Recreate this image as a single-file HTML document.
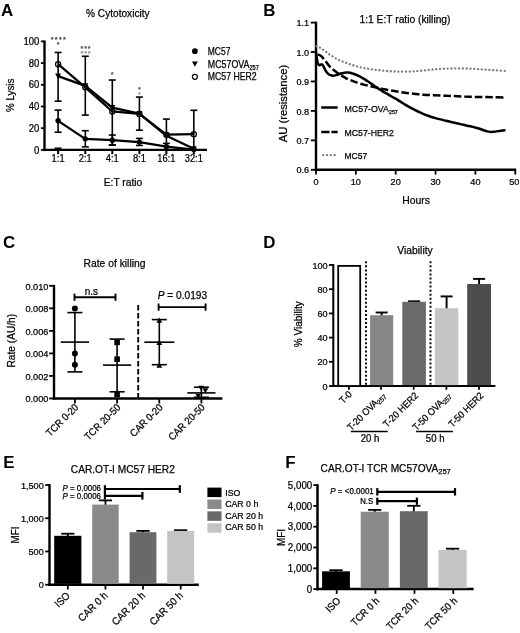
<!DOCTYPE html>
<html lang="en"><head><meta charset="utf-8"><title>Figure</title>
<style>
html,body{margin:0;padding:0;background:#fff;}
body{width:520px;height:633px;overflow:hidden;font-family:'Liberation Sans', Arial, Helvetica, sans-serif;}
svg{display:block;}
svg text{font-family:'Liberation Sans', Arial, Helvetica, sans-serif;}
</style></head><body>
<svg width="520" height="633" viewBox="0 0 520 633">
<rect width="520" height="633" fill="#fff"/>
<text font-size="16.9" font-weight="bold" transform="translate(0.9 15.6)">A</text>
<text font-size="11.39" stroke="#000" stroke-width="0.25" textLength="63.6" lengthAdjust="spacingAndGlyphs" transform="translate(86.0 16.7)">% Cytotoxicity</text>
<line x1="44.50" y1="40.50" x2="44.50" y2="151.10" stroke="#000" stroke-width="2.4"/>
<line x1="43.30" y1="149.90" x2="207.00" y2="149.90" stroke="#000" stroke-width="2.4"/>
<line x1="40.90" y1="149.90" x2="44.50" y2="149.90" stroke="#000" stroke-width="1.8"/>
<text font-size="10.21" text-anchor="end" stroke="#000" stroke-width="0.25" transform="translate(39.3 153.5) scale(0.93 1)">0</text>
<line x1="40.90" y1="128.20" x2="44.50" y2="128.20" stroke="#000" stroke-width="1.8"/>
<text font-size="10.21" text-anchor="end" stroke="#000" stroke-width="0.25" transform="translate(39.3 131.8) scale(0.93 1)">20</text>
<line x1="40.90" y1="106.50" x2="44.50" y2="106.50" stroke="#000" stroke-width="1.8"/>
<text font-size="10.21" text-anchor="end" stroke="#000" stroke-width="0.25" transform="translate(39.3 110.1) scale(0.93 1)">40</text>
<line x1="40.90" y1="84.80" x2="44.50" y2="84.80" stroke="#000" stroke-width="1.8"/>
<text font-size="10.21" text-anchor="end" stroke="#000" stroke-width="0.25" transform="translate(39.3 88.4) scale(0.93 1)">60</text>
<line x1="40.90" y1="63.10" x2="44.50" y2="63.10" stroke="#000" stroke-width="1.8"/>
<text font-size="10.21" text-anchor="end" stroke="#000" stroke-width="0.25" transform="translate(39.3 66.7) scale(0.93 1)">80</text>
<line x1="40.90" y1="41.40" x2="44.50" y2="41.40" stroke="#000" stroke-width="1.8"/>
<text font-size="10.21" text-anchor="end" stroke="#000" stroke-width="0.25" transform="translate(39.3 45.0) scale(0.93 1)">100</text>
<line x1="58.10" y1="149.90" x2="58.10" y2="154.20" stroke="#000" stroke-width="2.0"/>
<text font-size="10.05" text-anchor="middle" stroke="#000" stroke-width="0.25" transform="translate(58.1 162.3) scale(0.93 1)">1:1</text>
<line x1="85.30" y1="149.90" x2="85.30" y2="154.20" stroke="#000" stroke-width="2.0"/>
<text font-size="10.05" text-anchor="middle" stroke="#000" stroke-width="0.25" transform="translate(85.3 162.3) scale(0.93 1)">2:1</text>
<line x1="112.30" y1="149.90" x2="112.30" y2="154.20" stroke="#000" stroke-width="2.0"/>
<text font-size="10.05" text-anchor="middle" stroke="#000" stroke-width="0.25" transform="translate(112.3 162.3) scale(0.93 1)">4:1</text>
<line x1="139.40" y1="149.90" x2="139.40" y2="154.20" stroke="#000" stroke-width="2.0"/>
<text font-size="10.05" text-anchor="middle" stroke="#000" stroke-width="0.25" transform="translate(139.4 162.3) scale(0.93 1)">8:1</text>
<line x1="166.40" y1="149.90" x2="166.40" y2="154.20" stroke="#000" stroke-width="2.0"/>
<text font-size="10.05" text-anchor="middle" stroke="#000" stroke-width="0.25" transform="translate(166.4 162.3) scale(0.93 1)">16:1</text>
<line x1="193.80" y1="149.90" x2="193.80" y2="154.20" stroke="#000" stroke-width="2.0"/>
<text font-size="10.05" text-anchor="middle" stroke="#000" stroke-width="0.25" transform="translate(193.8 162.3) scale(0.93 1)">32:1</text>
<text font-size="10.54" text-anchor="middle" stroke="#000" stroke-width="0.25" transform="translate(14.2 95.3) rotate(-90) scale(0.93 1)">% Lysis</text>
<text font-size="11.07" text-anchor="middle" stroke="#000" stroke-width="0.25" transform="translate(123 185.7) scale(0.93 1)">E:T ratio</text>
<line x1="58.10" y1="52.47" x2="58.10" y2="101.18" stroke="#000" stroke-width="1.6"/>
<line x1="54.60" y1="52.47" x2="61.60" y2="52.47" stroke="#000" stroke-width="1.6"/>
<line x1="54.60" y1="101.18" x2="61.60" y2="101.18" stroke="#000" stroke-width="1.6"/>
<line x1="85.30" y1="56.26" x2="85.30" y2="115.07" stroke="#000" stroke-width="1.6"/>
<line x1="81.80" y1="56.26" x2="88.80" y2="56.26" stroke="#000" stroke-width="1.6"/>
<line x1="81.80" y1="115.07" x2="88.80" y2="115.07" stroke="#000" stroke-width="1.6"/>
<line x1="112.30" y1="80.03" x2="112.30" y2="145.02" stroke="#000" stroke-width="1.6"/>
<line x1="108.80" y1="80.03" x2="115.80" y2="80.03" stroke="#000" stroke-width="1.6"/>
<line x1="108.80" y1="145.02" x2="115.80" y2="145.02" stroke="#000" stroke-width="1.6"/>
<line x1="139.40" y1="97.06" x2="139.40" y2="130.15" stroke="#000" stroke-width="1.6"/>
<line x1="135.90" y1="97.06" x2="142.90" y2="97.06" stroke="#000" stroke-width="1.6"/>
<line x1="135.90" y1="130.15" x2="142.90" y2="130.15" stroke="#000" stroke-width="1.6"/>
<line x1="166.40" y1="119.09" x2="166.40" y2="149.90" stroke="#000" stroke-width="1.6"/>
<line x1="162.90" y1="119.09" x2="169.90" y2="119.09" stroke="#000" stroke-width="1.6"/>
<line x1="162.90" y1="149.90" x2="169.90" y2="149.90" stroke="#000" stroke-width="1.6"/>
<line x1="193.80" y1="110.30" x2="193.80" y2="149.90" stroke="#000" stroke-width="1.6"/>
<line x1="190.30" y1="110.30" x2="197.30" y2="110.30" stroke="#000" stroke-width="1.6"/>
<line x1="190.30" y1="149.90" x2="197.30" y2="149.90" stroke="#000" stroke-width="1.6"/>
<line x1="58.10" y1="110.08" x2="58.10" y2="132.21" stroke="#000" stroke-width="1.6"/>
<line x1="54.60" y1="110.08" x2="61.60" y2="110.08" stroke="#000" stroke-width="1.6"/>
<line x1="54.60" y1="132.21" x2="61.60" y2="132.21" stroke="#000" stroke-width="1.6"/>
<line x1="85.30" y1="130.70" x2="85.30" y2="146.86" stroke="#000" stroke-width="1.6"/>
<line x1="81.80" y1="130.70" x2="88.80" y2="130.70" stroke="#000" stroke-width="1.6"/>
<line x1="81.80" y1="146.86" x2="88.80" y2="146.86" stroke="#000" stroke-width="1.6"/>
<line x1="112.30" y1="135.04" x2="112.30" y2="145.02" stroke="#000" stroke-width="1.6"/>
<line x1="108.80" y1="135.04" x2="115.80" y2="135.04" stroke="#000" stroke-width="1.6"/>
<line x1="108.80" y1="145.02" x2="115.80" y2="145.02" stroke="#000" stroke-width="1.6"/>
<line x1="139.40" y1="138.40" x2="139.40" y2="145.45" stroke="#000" stroke-width="1.6"/>
<line x1="135.90" y1="138.40" x2="142.90" y2="138.40" stroke="#000" stroke-width="1.6"/>
<line x1="135.90" y1="145.45" x2="142.90" y2="145.45" stroke="#000" stroke-width="1.6"/>
<line x1="166.40" y1="143.39" x2="166.40" y2="149.90" stroke="#000" stroke-width="1.6"/>
<line x1="162.90" y1="143.39" x2="169.90" y2="143.39" stroke="#000" stroke-width="1.6"/>
<line x1="162.90" y1="149.90" x2="169.90" y2="149.90" stroke="#000" stroke-width="1.6"/>
<line x1="54.60" y1="148.30" x2="61.60" y2="148.30" stroke="#000" stroke-width="1.6"/>
<polyline points="58.10,120.82 85.30,138.83 112.30,140.13 139.40,142.09 166.40,146.65 193.80,149.57" fill="none" stroke="#000" stroke-width="2.25" stroke-linejoin="round"/>
<polyline points="58.10,76.12 85.30,85.89 112.30,107.59 139.40,113.55 166.40,135.80 193.80,148.81" fill="none" stroke="#000" stroke-width="2.25" stroke-linejoin="round"/>
<polyline points="58.10,64.19 85.30,87.30 112.30,111.49 139.40,113.88 166.40,134.71 193.80,134.17" fill="none" stroke="#000" stroke-width="2.25" stroke-linejoin="round"/>
<circle cx="58.10" cy="120.82" r="2.7" fill="#000"/>
<circle cx="85.30" cy="138.83" r="2.7" fill="#000"/>
<circle cx="112.30" cy="140.13" r="2.7" fill="#000"/>
<circle cx="139.40" cy="142.09" r="2.7" fill="#000"/>
<circle cx="166.40" cy="146.65" r="2.7" fill="#000"/>
<circle cx="193.80" cy="149.57" r="2.7" fill="#000"/>
<polygon points="55.10,73.57 61.10,73.57 58.10,78.97" fill="#000"/>
<polygon points="82.30,83.34 88.30,83.34 85.30,88.73" fill="#000"/>
<polygon points="109.30,105.04 115.30,105.04 112.30,110.44" fill="#000"/>
<polygon points="136.40,111.00 142.40,111.00 139.40,116.40" fill="#000"/>
<polygon points="163.40,133.25 169.40,133.25 166.40,138.65" fill="#000"/>
<polygon points="190.80,146.26 196.80,146.26 193.80,151.66" fill="#000"/>
<circle cx="58.10" cy="64.19" r="2.6" fill="none" stroke="#000" stroke-width="1.2"/>
<circle cx="85.30" cy="87.30" r="2.6" fill="none" stroke="#000" stroke-width="1.2"/>
<circle cx="112.30" cy="111.49" r="2.6" fill="none" stroke="#000" stroke-width="1.2"/>
<circle cx="139.40" cy="113.88" r="2.6" fill="none" stroke="#000" stroke-width="1.2"/>
<circle cx="166.40" cy="134.71" r="2.6" fill="none" stroke="#000" stroke-width="1.2"/>
<circle cx="193.80" cy="134.17" r="2.6" fill="none" stroke="#000" stroke-width="1.2"/>
<text font-size="7.74" text-anchor="middle" fill="#3c3c3c" stroke="#3c3c3c" stroke-width="0.25" transform="translate(58.9 41.5) scale(0.93 1)" letter-spacing="1.4">****</text>
<text font-size="7.74" text-anchor="middle" fill="#4a4a4a" stroke="#4a4a4a" stroke-width="0.25" transform="translate(58.1 46.9) scale(0.93 1)">*</text>
<text font-size="7.74" text-anchor="middle" fill="#454545" stroke="#454545" stroke-width="0.25" transform="translate(85.9 51.2) scale(0.93 1)" letter-spacing="0.8">***</text>
<text font-size="7.74" text-anchor="middle" fill="#8c8c8c" stroke="#8c8c8c" stroke-width="0.25" transform="translate(85.9 56.0) scale(0.93 1)" letter-spacing="0.8">***</text>
<text font-size="7.96" text-anchor="middle" fill="#555" stroke="#555" stroke-width="0.25" transform="translate(112.1 77.2) scale(0.93 1)">*</text>
<text font-size="7.96" text-anchor="middle" fill="#555" stroke="#555" stroke-width="0.25" transform="translate(139.4 92.0) scale(0.93 1)">*</text>
<text font-size="7.96" text-anchor="middle" fill="#999" stroke="#999" stroke-width="0.25" transform="translate(139.4 96.7) scale(0.93 1)">*</text>
<circle cx="194.90" cy="51.20" r="2.85" fill="#000"/>
<polygon points="192.00,61.53 197.80,61.53 194.90,66.75" fill="#000"/>
<circle cx="194.90" cy="76.80" r="2.5" fill="none" stroke="#000" stroke-width="1.2"/>
<text font-size="10.11" stroke="#000" stroke-width="0.25" textLength="22.6" lengthAdjust="spacingAndGlyphs" transform="translate(207.8 54.7)">MC57</text>
<text font-size="10.11" stroke="#000" stroke-width="0.25" textLength="51" lengthAdjust="spacingAndGlyphs" transform="translate(207.8 67.8)">MC57OVA<tspan font-size="6.4" dy="2" dx="0">257</tspan></text>
<text font-size="10.11" stroke="#000" stroke-width="0.25" textLength="48.9" lengthAdjust="spacingAndGlyphs" transform="translate(207.8 80.1)">MC57 HER2</text>
<text font-size="16.9" font-weight="bold" transform="translate(263.3 15.6)">B</text>
<text font-size="10.96" text-anchor="middle" stroke="#000" stroke-width="0.25" textLength="91" lengthAdjust="spacingAndGlyphs" transform="translate(405 22.8)">1:1 E:T ratio (killing)</text>
<line x1="316.00" y1="21.70" x2="316.00" y2="171.00" stroke="#000" stroke-width="2.4"/>
<line x1="314.80" y1="169.80" x2="516.20" y2="169.80" stroke="#000" stroke-width="2.4"/>
<line x1="310.80" y1="169.80" x2="316.00" y2="169.80" stroke="#000" stroke-width="1.8"/>
<text font-size="9.84" text-anchor="end" stroke="#000" stroke-width="0.25" transform="translate(309.2 173.4) scale(0.93 1)">0.6</text>
<line x1="310.80" y1="140.36" x2="316.00" y2="140.36" stroke="#000" stroke-width="1.8"/>
<text font-size="9.84" text-anchor="end" stroke="#000" stroke-width="0.25" transform="translate(309.2 143.96) scale(0.93 1)">0.7</text>
<line x1="310.80" y1="110.92" x2="316.00" y2="110.92" stroke="#000" stroke-width="1.8"/>
<text font-size="9.84" text-anchor="end" stroke="#000" stroke-width="0.25" transform="translate(309.2 114.52) scale(0.93 1)">0.8</text>
<line x1="310.80" y1="81.48" x2="316.00" y2="81.48" stroke="#000" stroke-width="1.8"/>
<text font-size="9.84" text-anchor="end" stroke="#000" stroke-width="0.25" transform="translate(309.2 85.08) scale(0.93 1)">0.9</text>
<line x1="310.80" y1="52.04" x2="316.00" y2="52.04" stroke="#000" stroke-width="1.8"/>
<text font-size="9.84" text-anchor="end" stroke="#000" stroke-width="0.25" transform="translate(309.2 55.64) scale(0.93 1)">1.0</text>
<line x1="310.80" y1="22.60" x2="316.00" y2="22.60" stroke="#000" stroke-width="1.8"/>
<text font-size="9.84" text-anchor="end" stroke="#000" stroke-width="0.25" transform="translate(309.2 26.2) scale(0.93 1)">1.1</text>
<line x1="316.00" y1="169.80" x2="316.00" y2="174.60" stroke="#000" stroke-width="1.8"/>
<text font-size="9.84" text-anchor="middle" stroke="#000" stroke-width="0.25" transform="translate(316.0 184.7) scale(0.93 1)">0</text>
<line x1="355.85" y1="169.80" x2="355.85" y2="174.60" stroke="#000" stroke-width="1.8"/>
<text font-size="9.84" text-anchor="middle" stroke="#000" stroke-width="0.25" transform="translate(355.85 184.7) scale(0.93 1)">10</text>
<line x1="395.70" y1="169.80" x2="395.70" y2="174.60" stroke="#000" stroke-width="1.8"/>
<text font-size="9.84" text-anchor="middle" stroke="#000" stroke-width="0.25" transform="translate(395.7 184.7) scale(0.93 1)">20</text>
<line x1="435.55" y1="169.80" x2="435.55" y2="174.60" stroke="#000" stroke-width="1.8"/>
<text font-size="9.84" text-anchor="middle" stroke="#000" stroke-width="0.25" transform="translate(435.55 184.7) scale(0.93 1)">30</text>
<line x1="475.40" y1="169.80" x2="475.40" y2="174.60" stroke="#000" stroke-width="1.8"/>
<text font-size="9.84" text-anchor="middle" stroke="#000" stroke-width="0.25" transform="translate(475.4 184.7) scale(0.93 1)">40</text>
<line x1="515.25" y1="169.80" x2="515.25" y2="174.60" stroke="#000" stroke-width="1.8"/>
<text font-size="9.84" text-anchor="middle" stroke="#000" stroke-width="0.25" transform="translate(514.35 184.7) scale(0.93 1)">50</text>
<text font-size="11.82" text-anchor="middle" stroke="#000" stroke-width="0.25" textLength="77.5" lengthAdjust="spacingAndGlyphs" transform="translate(287.2 103.5) rotate(-90)">AU (resistance)</text>
<text font-size="11.18" text-anchor="middle" stroke="#000" stroke-width="0.25" transform="translate(416 203.8) scale(0.93 1)">Hours</text>
<path d="M316.5 46.2C316.8 46.3 317.7 46.4 318.5 46.8C319.3 47.2 320.4 47.8 321.5 48.5C322.6 49.2 324.0 50.3 325.3 51.3C326.6 52.2 327.8 53.2 329.2 54.2C330.6 55.2 332.4 56.3 334.0 57.3C335.6 58.3 337.2 59.2 338.8 60.0C340.4 60.8 342.0 61.4 343.6 62.0C345.2 62.6 346.9 63.2 348.5 63.8C350.1 64.3 351.7 64.8 353.3 65.3C354.9 65.8 356.5 66.3 358.1 66.7C359.7 67.1 361.4 67.5 363.0 67.8C364.6 68.1 366.1 68.4 367.7 68.7C369.3 69.0 370.9 69.2 372.5 69.4C374.1 69.6 375.7 69.8 377.3 70.0C378.9 70.2 380.4 70.3 382.0 70.5C383.6 70.7 385.3 70.9 386.9 71.0C388.5 71.1 390.1 71.2 391.7 71.3C393.3 71.4 395.1 71.5 396.5 71.6C397.9 71.7 398.5 71.7 400.0 71.7C401.5 71.7 403.6 71.7 405.5 71.7C407.4 71.7 409.6 71.6 411.5 71.5C413.4 71.4 415.1 71.3 417.0 71.1C418.9 70.9 421.1 70.7 423.1 70.5C425.1 70.3 426.9 70.1 428.8 69.9C430.7 69.7 432.7 69.5 434.6 69.3C436.5 69.1 438.5 69.0 440.4 68.9C442.3 68.8 444.3 68.7 446.2 68.6C448.1 68.5 450.1 68.5 452.0 68.5C453.9 68.5 455.8 68.4 457.7 68.4C459.6 68.4 461.6 68.5 463.5 68.5C465.4 68.5 467.3 68.5 469.2 68.6C471.1 68.7 473.1 68.8 475.0 68.9C476.9 69.0 478.9 69.2 480.8 69.3C482.7 69.4 484.6 69.6 486.5 69.7C488.4 69.8 490.3 69.9 492.3 70.0C494.3 70.1 496.4 70.3 498.5 70.5C500.6 70.7 503.9 70.8 505.0 70.9" fill="none" stroke="#7c7c7c" stroke-width="2.3" stroke-linejoin="round" stroke-dasharray="0.1 3.7" stroke-linecap="round"/>
<path d="M318.0 54.6C318.2 54.7 318.9 54.7 319.5 55.0C320.1 55.3 320.9 55.8 321.5 56.4C322.1 57.0 322.8 57.8 323.4 58.6C324.0 59.4 324.4 59.8 325.4 61.0C326.4 62.2 327.9 64.4 329.2 65.8C330.5 67.2 331.7 68.3 333.0 69.4C334.3 70.5 335.6 71.6 336.9 72.5C338.2 73.4 339.4 74.2 340.7 75.0C342.0 75.8 343.2 76.5 344.6 77.3C346.0 78.1 347.7 79.0 349.3 79.7C350.9 80.4 352.6 81.1 354.2 81.7C355.8 82.3 357.4 82.8 359.0 83.3C360.6 83.8 362.1 84.1 363.8 84.6C365.6 85.0 367.6 85.5 369.5 86.0C371.4 86.5 373.5 86.9 375.4 87.3C377.3 87.7 379.1 88.2 381.0 88.6C382.9 89.0 384.9 89.4 386.9 89.8C388.8 90.2 390.8 90.5 392.7 90.8C394.6 91.1 396.6 91.4 398.5 91.7C400.4 92.0 401.8 92.3 404.0 92.6C406.2 92.9 408.3 93.2 411.5 93.5C414.7 93.8 419.2 94.4 423.1 94.7C427.0 95.0 430.8 95.1 434.6 95.3C438.5 95.5 442.4 95.6 446.2 95.8C450.0 96.0 453.9 96.1 457.7 96.3C461.5 96.5 465.3 96.7 469.2 96.8C473.1 96.9 476.9 96.9 480.8 97.0C484.7 97.1 488.2 97.1 492.3 97.2C496.4 97.3 503.3 97.5 505.5 97.5" fill="none" stroke="#000" stroke-width="2.5" stroke-linejoin="round" stroke-dasharray="7.6 2.9"/>
<path d="M316.2 52.3C316.3 53.5 316.7 57.6 317.0 59.5C317.3 61.4 317.5 62.6 317.9 63.6C318.3 64.5 318.7 65.0 319.2 65.2C319.7 65.4 320.3 64.7 320.8 64.6C321.3 64.5 321.8 64.2 322.3 64.6C322.8 65.0 323.2 66.0 323.8 67.0C324.4 68.0 324.9 69.5 325.6 70.6C326.3 71.7 327.2 72.8 328.0 73.6C328.8 74.4 329.6 74.8 330.5 75.2C331.4 75.6 332.1 75.8 333.1 75.8C334.1 75.8 335.2 75.4 336.5 75.0C337.8 74.6 339.5 73.9 340.8 73.5C342.1 73.1 343.3 72.9 344.5 72.7C345.7 72.5 346.7 72.5 348.0 72.6C349.3 72.7 350.8 73.0 352.5 73.5C354.2 74.0 356.4 74.8 358.1 75.6C359.9 76.4 361.4 77.4 363.0 78.3C364.6 79.2 366.1 80.2 367.7 81.2C369.3 82.2 370.9 83.5 372.5 84.6C374.1 85.7 375.7 86.9 377.3 87.9C378.9 89.0 380.4 89.9 382.0 90.9C383.6 91.9 385.3 92.8 386.9 93.7C388.5 94.6 389.9 95.6 391.5 96.5C393.1 97.4 395.1 98.4 396.5 99.2C397.9 100.0 398.5 100.5 400.0 101.4C401.5 102.3 403.6 103.7 405.5 104.8C407.4 105.9 409.6 107.2 411.5 108.2C413.4 109.2 415.1 110.1 417.0 111.0C418.9 111.9 421.1 113.0 423.1 113.8C425.1 114.6 426.9 115.3 428.8 116.0C430.7 116.7 432.7 117.3 434.6 117.9C436.5 118.5 438.5 118.9 440.4 119.4C442.3 119.9 444.3 120.3 446.2 120.8C448.1 121.3 450.1 121.8 452.0 122.2C453.9 122.7 455.8 123.1 457.7 123.5C459.6 123.9 461.6 124.4 463.5 124.8C465.4 125.2 467.6 125.8 469.2 126.1C470.8 126.4 471.8 126.6 473.0 126.9C474.2 127.2 475.1 127.4 476.2 127.7C477.3 128.0 478.5 128.4 479.7 128.8C480.9 129.2 482.1 129.6 483.1 130.0C484.2 130.4 485.1 130.7 486.0 131.0C486.9 131.3 488.0 131.4 488.8 131.6C489.6 131.8 490.2 131.9 491.0 131.9C491.8 131.9 492.6 131.9 493.5 131.8C494.4 131.7 495.6 131.6 496.5 131.4C497.4 131.2 498.2 131.1 499.2 130.9C500.2 130.7 501.4 130.6 502.5 130.4C503.6 130.2 505.0 130.1 505.5 130.0" fill="none" stroke="#000" stroke-width="2.5" stroke-linejoin="round"/>
<line x1="321.20" y1="107.50" x2="337.70" y2="107.50" stroke="#000" stroke-width="2.5"/>
<line x1="321.20" y1="132.10" x2="337.70" y2="132.10" stroke="#000" stroke-width="2.5" stroke-dasharray="8.3 1.9"/>
<line x1="323.20" y1="155.20" x2="335.50" y2="155.20" stroke="#7c7c7c" stroke-width="2.3" stroke-dasharray="0.1 3.7" stroke-linecap="round"/>
<text font-size="9.89" stroke="#000" stroke-width="0.25" textLength="53.3" lengthAdjust="spacingAndGlyphs" transform="translate(344.5 111.6)">MC57-OVA<tspan font-size="5.9" dy="2" dx="0">257</tspan></text>
<text font-size="9.89" stroke="#000" stroke-width="0.25" textLength="49.4" lengthAdjust="spacingAndGlyphs" transform="translate(344.5 135.8)">MC57-HER2</text>
<text font-size="9.89" stroke="#000" stroke-width="0.25" textLength="22.8" lengthAdjust="spacingAndGlyphs" transform="translate(344.5 159.2)">MC57</text>
<text font-size="16.9" font-weight="bold" transform="translate(2.9 247.6)">C</text>
<text font-size="11.29" text-anchor="middle" stroke="#000" stroke-width="0.25" textLength="62" lengthAdjust="spacingAndGlyphs" transform="translate(114.5 266.6)">Rate of killing</text>
<line x1="54.00" y1="284.90" x2="54.00" y2="399.65" stroke="#000" stroke-width="2.4"/>
<line x1="52.80" y1="398.45" x2="222.40" y2="398.45" stroke="#000" stroke-width="2.4"/>
<line x1="49.10" y1="398.45" x2="54.00" y2="398.45" stroke="#000" stroke-width="1.8"/>
<text font-size="9.84" text-anchor="end" stroke="#000" stroke-width="0.25" textLength="23.0" lengthAdjust="spacingAndGlyphs" transform="translate(48.4 402.15)">0.000</text>
<line x1="49.10" y1="375.92" x2="54.00" y2="375.92" stroke="#000" stroke-width="1.8"/>
<text font-size="9.84" text-anchor="end" stroke="#000" stroke-width="0.25" textLength="23.0" lengthAdjust="spacingAndGlyphs" transform="translate(48.4 379.62)">0.002</text>
<line x1="49.10" y1="353.39" x2="54.00" y2="353.39" stroke="#000" stroke-width="1.8"/>
<text font-size="9.84" text-anchor="end" stroke="#000" stroke-width="0.25" textLength="23.0" lengthAdjust="spacingAndGlyphs" transform="translate(48.4 357.09)">0.004</text>
<line x1="49.10" y1="330.86" x2="54.00" y2="330.86" stroke="#000" stroke-width="1.8"/>
<text font-size="9.84" text-anchor="end" stroke="#000" stroke-width="0.25" textLength="23.0" lengthAdjust="spacingAndGlyphs" transform="translate(48.4 334.56)">0.006</text>
<line x1="49.10" y1="308.33" x2="54.00" y2="308.33" stroke="#000" stroke-width="1.8"/>
<text font-size="9.84" text-anchor="end" stroke="#000" stroke-width="0.25" textLength="23.0" lengthAdjust="spacingAndGlyphs" transform="translate(48.4 312.03)">0.008</text>
<line x1="49.10" y1="285.80" x2="54.00" y2="285.80" stroke="#000" stroke-width="1.8"/>
<text font-size="9.84" text-anchor="end" stroke="#000" stroke-width="0.25" textLength="23.0" lengthAdjust="spacingAndGlyphs" transform="translate(48.4 289.5)">0.010</text>
<line x1="74.90" y1="398.45" x2="74.90" y2="403.45" stroke="#000" stroke-width="1.8"/>
<text font-size="10.21" text-anchor="end" stroke="#000" stroke-width="0.25" transform="translate(79.10000000000001 407.95) rotate(-45) scale(0.93 1)">TCR 0-20</text>
<line x1="117.10" y1="398.45" x2="117.10" y2="403.45" stroke="#000" stroke-width="1.8"/>
<text font-size="10.21" text-anchor="end" stroke="#000" stroke-width="0.25" transform="translate(121.3 407.95) rotate(-45) scale(0.93 1)">TCR 20-50</text>
<line x1="159.30" y1="398.45" x2="159.30" y2="403.45" stroke="#000" stroke-width="1.8"/>
<text font-size="10.21" text-anchor="end" stroke="#000" stroke-width="0.25" transform="translate(163.5 407.95) rotate(-45) scale(0.93 1)">CAR 0-20</text>
<line x1="201.40" y1="398.45" x2="201.40" y2="403.45" stroke="#000" stroke-width="1.8"/>
<text font-size="10.21" text-anchor="end" stroke="#000" stroke-width="0.25" transform="translate(205.6 407.95) rotate(-45) scale(0.93 1)">CAR 20-50</text>
<text font-size="10.96" text-anchor="middle" stroke="#000" stroke-width="0.25" textLength="53.6" lengthAdjust="spacingAndGlyphs" transform="translate(15.0 340.7) rotate(-90)">Rate (AU/h)</text>
<line x1="138.20" y1="305.00" x2="138.20" y2="398.45" stroke="#000" stroke-width="1.9" stroke-dasharray="5.6 2.4"/>
<line x1="74.90" y1="312.60" x2="74.90" y2="371.90" stroke="#000" stroke-width="1.6"/>
<line x1="67.40" y1="312.60" x2="82.40" y2="312.60" stroke="#000" stroke-width="1.6"/>
<line x1="67.40" y1="371.90" x2="82.40" y2="371.90" stroke="#000" stroke-width="1.6"/>
<line x1="60.80" y1="342.10" x2="89.00" y2="342.10" stroke="#000" stroke-width="1.6"/>
<circle cx="74.90" cy="308.50" r="3.0" fill="#000"/>
<circle cx="74.90" cy="353.60" r="3.0" fill="#000"/>
<circle cx="74.90" cy="364.70" r="3.0" fill="#000"/>
<line x1="117.10" y1="339.10" x2="117.10" y2="391.80" stroke="#000" stroke-width="1.6"/>
<line x1="109.60" y1="339.10" x2="124.60" y2="339.10" stroke="#000" stroke-width="1.6"/>
<line x1="109.60" y1="391.80" x2="124.60" y2="391.80" stroke="#000" stroke-width="1.6"/>
<line x1="103.00" y1="365.10" x2="131.20" y2="365.10" stroke="#000" stroke-width="1.6"/>
<rect x="114.30" y="339.60" width="5.60" height="5.60" fill="#000"/>
<rect x="114.30" y="356.40" width="5.60" height="5.60" fill="#000"/>
<rect x="114.30" y="391.60" width="5.60" height="5.60" fill="#000"/>
<line x1="159.30" y1="319.60" x2="159.30" y2="364.70" stroke="#000" stroke-width="1.6"/>
<line x1="151.80" y1="319.60" x2="166.80" y2="319.60" stroke="#000" stroke-width="1.6"/>
<line x1="151.80" y1="364.70" x2="166.80" y2="364.70" stroke="#000" stroke-width="1.6"/>
<line x1="144.30" y1="342.20" x2="174.30" y2="342.20" stroke="#000" stroke-width="1.6"/>
<polygon points="156.40,322.76 162.20,322.76 159.30,317.55" fill="#000"/>
<polygon points="156.40,345.06 162.20,345.06 159.30,339.85" fill="#000"/>
<polygon points="156.40,367.76 162.20,367.76 159.30,362.55" fill="#000"/>
<line x1="201.40" y1="387.20" x2="201.40" y2="397.30" stroke="#000" stroke-width="1.6"/>
<line x1="193.90" y1="387.20" x2="208.90" y2="387.20" stroke="#000" stroke-width="1.6"/>
<line x1="193.90" y1="397.30" x2="208.90" y2="397.30" stroke="#000" stroke-width="1.6"/>
<line x1="187.30" y1="392.90" x2="215.50" y2="392.90" stroke="#000" stroke-width="1.6"/>
<polygon points="198.20,385.74 204.00,385.74 201.10,390.95" fill="#000"/>
<polygon points="202.50,388.14 208.30,388.14 205.40,393.36" fill="#000"/>
<polygon points="195.30,393.84 201.10,393.84 198.20,399.06" fill="#000"/>
<line x1="74.50" y1="297.20" x2="115.50" y2="297.20" stroke="#000" stroke-width="1.9"/>
<line x1="74.50" y1="293.60" x2="74.50" y2="300.80" stroke="#000" stroke-width="1.9"/>
<line x1="115.50" y1="293.60" x2="115.50" y2="300.80" stroke="#000" stroke-width="1.9"/>
<text font-size="10.75" text-anchor="middle" stroke="#000" stroke-width="0.25" transform="translate(91.4 294.8) scale(0.93 1)">n.s</text>
<line x1="158.60" y1="307.10" x2="205.60" y2="307.10" stroke="#000" stroke-width="1.9"/>
<line x1="158.60" y1="303.50" x2="158.60" y2="310.70" stroke="#000" stroke-width="1.9"/>
<line x1="205.60" y1="303.50" x2="205.60" y2="310.70" stroke="#000" stroke-width="1.9"/>
<text font-size="10.54" stroke="#000" stroke-width="0.25" textLength="49.3" lengthAdjust="spacingAndGlyphs" transform="translate(157.8 299.4)"><tspan font-style="italic">P</tspan> = 0.0193</text>
<text font-size="16.9" font-weight="bold" transform="translate(263.3 247.6)">D</text>
<text font-size="11.29" text-anchor="middle" stroke="#000" stroke-width="0.25" textLength="35.5" lengthAdjust="spacingAndGlyphs" transform="translate(415 253.9)">Viability</text>
<line x1="333.30" y1="264.10" x2="333.30" y2="387.02" stroke="#000" stroke-width="2.05"/>
<line x1="332.28" y1="386.00" x2="495.40" y2="386.00" stroke="#000" stroke-width="2.05"/>
<line x1="329.00" y1="386.00" x2="333.30" y2="386.00" stroke="#000" stroke-width="1.8"/>
<text font-size="9.84" text-anchor="end" stroke="#000" stroke-width="0.25" transform="translate(327.7 389.6) scale(0.93 1)">0</text>
<line x1="329.00" y1="361.80" x2="333.30" y2="361.80" stroke="#000" stroke-width="1.8"/>
<text font-size="9.84" text-anchor="end" stroke="#000" stroke-width="0.25" transform="translate(327.7 365.4) scale(0.93 1)">20</text>
<line x1="329.00" y1="337.60" x2="333.30" y2="337.60" stroke="#000" stroke-width="1.8"/>
<text font-size="9.84" text-anchor="end" stroke="#000" stroke-width="0.25" transform="translate(327.7 341.2) scale(0.93 1)">40</text>
<line x1="329.00" y1="313.40" x2="333.30" y2="313.40" stroke="#000" stroke-width="1.8"/>
<text font-size="9.84" text-anchor="end" stroke="#000" stroke-width="0.25" transform="translate(327.7 317.0) scale(0.93 1)">60</text>
<line x1="329.00" y1="289.20" x2="333.30" y2="289.20" stroke="#000" stroke-width="1.8"/>
<text font-size="9.84" text-anchor="end" stroke="#000" stroke-width="0.25" transform="translate(327.7 292.8) scale(0.93 1)">80</text>
<line x1="329.00" y1="265.00" x2="333.30" y2="265.00" stroke="#000" stroke-width="1.8"/>
<text font-size="9.84" text-anchor="end" stroke="#000" stroke-width="0.25" transform="translate(327.7 268.6) scale(0.93 1)">100</text>
<text font-size="10.75" text-anchor="middle" stroke="#000" stroke-width="0.25" textLength="46" lengthAdjust="spacingAndGlyphs" transform="translate(302.4 324.2) rotate(-90)">% Viability</text>
<rect x="338.20" y="265.90" width="22.00" height="120.10" fill="#fff" stroke="#000" stroke-width="1.8"/>
<line x1="348.90" y1="386.00" x2="348.90" y2="389.70" stroke="#000" stroke-width="1.8"/>
<text font-size="9.78" text-anchor="end" stroke="#000" stroke-width="0.25" transform="translate(352.6 395.0) rotate(-45) scale(0.93 1)">T-0</text>
<line x1="381.65" y1="312.50" x2="381.65" y2="316.20" stroke="#000" stroke-width="1.9"/>
<line x1="375.65" y1="312.50" x2="387.65" y2="312.50" stroke="#000" stroke-width="1.9"/>
<rect x="370.10" y="315.20" width="23.10" height="69.93" fill="#868686"/>
<line x1="381.00" y1="386.00" x2="381.00" y2="389.70" stroke="#000" stroke-width="1.8"/>
<text font-size="9.78" text-anchor="end" stroke="#000" stroke-width="0.25" transform="translate(386.2 396.2) rotate(-45) scale(0.93 1)">T-20 OVA<tspan font-size="6.8" dy="1.4" dx="-0.2">257</tspan></text>
<line x1="414.10" y1="301.30" x2="414.10" y2="302.80" stroke="#000" stroke-width="1.9"/>
<line x1="408.10" y1="301.30" x2="420.10" y2="301.30" stroke="#000" stroke-width="1.9"/>
<rect x="402.30" y="301.80" width="23.60" height="83.32" fill="#6a6a6a"/>
<line x1="413.70" y1="386.00" x2="413.70" y2="389.70" stroke="#000" stroke-width="1.8"/>
<text font-size="9.78" text-anchor="end" stroke="#000" stroke-width="0.25" transform="translate(418.9 396.2) rotate(-45) scale(0.93 1)">T-20 HER2</text>
<line x1="446.60" y1="296.40" x2="446.60" y2="309.20" stroke="#000" stroke-width="1.9"/>
<line x1="440.60" y1="296.40" x2="452.60" y2="296.40" stroke="#000" stroke-width="1.9"/>
<rect x="434.90" y="308.20" width="23.40" height="76.93" fill="#c4c4c4"/>
<line x1="446.40" y1="386.00" x2="446.40" y2="389.70" stroke="#000" stroke-width="1.8"/>
<text font-size="9.78" text-anchor="end" stroke="#000" stroke-width="0.25" transform="translate(451.6 396.2) rotate(-45) scale(0.93 1)">T-50 OVA<tspan font-size="6.8" dy="1.4" dx="-0.2">257</tspan></text>
<line x1="479.10" y1="278.90" x2="479.10" y2="285.00" stroke="#000" stroke-width="1.9"/>
<line x1="473.10" y1="278.90" x2="485.10" y2="278.90" stroke="#000" stroke-width="1.9"/>
<rect x="467.20" y="284.00" width="23.80" height="101.12" fill="#4d4d4d"/>
<line x1="479.00" y1="386.00" x2="479.00" y2="389.70" stroke="#000" stroke-width="1.8"/>
<text font-size="9.78" text-anchor="end" stroke="#000" stroke-width="0.25" transform="translate(484.2 396.2) rotate(-45) scale(0.93 1)">T-50 HER2</text>
<line x1="366.00" y1="261.30" x2="366.00" y2="386.00" stroke="#000" stroke-width="1.9" stroke-dasharray="2 2.05"/>
<line x1="430.50" y1="261.30" x2="430.50" y2="386.00" stroke="#000" stroke-width="1.9" stroke-dasharray="2 2.05"/>
<line x1="350.80" y1="431.60" x2="387.70" y2="431.60" stroke="#000" stroke-width="1.5"/>
<line x1="416.00" y1="431.60" x2="452.90" y2="431.60" stroke="#000" stroke-width="1.5"/>
<text font-size="10.32" text-anchor="middle" stroke="#000" stroke-width="0.25" transform="translate(370 441.5) scale(0.93 1)">20 h</text>
<text font-size="10.32" text-anchor="middle" stroke="#000" stroke-width="0.25" transform="translate(435.2 441.5) scale(0.93 1)">50 h</text>
<text font-size="16.9" font-weight="bold" transform="translate(3.2 467.8)">E</text>
<text font-size="11.07" stroke="#000" stroke-width="0.25" textLength="104" lengthAdjust="spacingAndGlyphs" transform="translate(70.8 472.6)">CAR.OT-I MC57 HER2</text>
<line x1="49.50" y1="484.10" x2="49.50" y2="585.90" stroke="#000" stroke-width="2.4"/>
<line x1="48.30" y1="584.70" x2="198.80" y2="584.70" stroke="#000" stroke-width="2.4"/>
<line x1="45.20" y1="584.70" x2="49.50" y2="584.70" stroke="#000" stroke-width="1.8"/>
<text font-size="9.84" text-anchor="end" stroke="#000" stroke-width="0.25" transform="translate(43.8 588.3) scale(0.93 1)">0</text>
<line x1="45.20" y1="551.47" x2="49.50" y2="551.47" stroke="#000" stroke-width="1.8"/>
<text font-size="9.84" text-anchor="end" stroke="#000" stroke-width="0.25" transform="translate(43.8 555.07) scale(0.93 1)">500</text>
<line x1="45.20" y1="518.23" x2="49.50" y2="518.23" stroke="#000" stroke-width="1.8"/>
<text font-size="9.84" text-anchor="end" stroke="#000" stroke-width="0.25" transform="translate(43.8 521.83) scale(0.93 1)">1,000</text>
<line x1="45.20" y1="485.00" x2="49.50" y2="485.00" stroke="#000" stroke-width="1.8"/>
<text font-size="9.84" text-anchor="end" stroke="#000" stroke-width="0.25" transform="translate(43.8 488.6) scale(0.93 1)">1,500</text>
<text font-size="10.54" text-anchor="middle" stroke="#000" stroke-width="0.25" transform="translate(18.8 535) rotate(-90) scale(0.93 1)">MFI</text>
<line x1="67.80" y1="533.70" x2="67.80" y2="536.80" stroke="#000" stroke-width="1.8"/>
<line x1="61.20" y1="533.70" x2="74.40" y2="533.70" stroke="#000" stroke-width="1.8"/>
<rect x="54.20" y="535.80" width="27.20" height="48.03" fill="#000"/>
<line x1="67.80" y1="584.70" x2="67.80" y2="589.50" stroke="#000" stroke-width="1.8"/>
<text font-size="10.43" text-anchor="end" stroke="#000" stroke-width="0.25" transform="translate(70.60000000000001 596.3000000000001) rotate(-45) scale(0.93 1)">ISO</text>
<line x1="105.45" y1="500.40" x2="105.45" y2="505.60" stroke="#000" stroke-width="1.8"/>
<line x1="98.85" y1="500.40" x2="112.05" y2="500.40" stroke="#000" stroke-width="1.8"/>
<rect x="92.20" y="504.60" width="26.50" height="79.23" fill="#8a8a8a"/>
<line x1="105.45" y1="584.70" x2="105.45" y2="589.50" stroke="#000" stroke-width="1.8"/>
<text font-size="10.43" text-anchor="end" stroke="#000" stroke-width="0.25" transform="translate(108.25 596.3000000000001) rotate(-45) scale(0.93 1)">CAR 0 h</text>
<line x1="143.00" y1="530.90" x2="143.00" y2="533.20" stroke="#000" stroke-width="1.8"/>
<line x1="136.40" y1="530.90" x2="149.60" y2="530.90" stroke="#000" stroke-width="1.8"/>
<rect x="129.60" y="532.20" width="26.80" height="51.62" fill="#696969"/>
<line x1="143.00" y1="584.70" x2="143.00" y2="589.50" stroke="#000" stroke-width="1.8"/>
<text font-size="10.43" text-anchor="end" stroke="#000" stroke-width="0.25" transform="translate(145.8 596.3000000000001) rotate(-45) scale(0.93 1)">CAR 20 h</text>
<line x1="180.70" y1="530.20" x2="180.70" y2="531.90" stroke="#000" stroke-width="1.8"/>
<line x1="174.10" y1="530.20" x2="187.30" y2="530.20" stroke="#000" stroke-width="1.8"/>
<rect x="167.20" y="530.90" width="27.00" height="52.93" fill="#c4c4c4"/>
<line x1="180.70" y1="584.70" x2="180.70" y2="589.50" stroke="#000" stroke-width="1.8"/>
<text font-size="10.43" text-anchor="end" stroke="#000" stroke-width="0.25" transform="translate(183.5 596.3000000000001) rotate(-45) scale(0.93 1)">CAR 50 h</text>
<line x1="104.90" y1="489.00" x2="179.80" y2="489.00" stroke="#000" stroke-width="2.2"/>
<line x1="104.90" y1="485.20" x2="104.90" y2="492.80" stroke="#000" stroke-width="2.2"/>
<line x1="179.80" y1="485.20" x2="179.80" y2="492.80" stroke="#000" stroke-width="2.2"/>
<line x1="104.90" y1="495.80" x2="142.40" y2="495.80" stroke="#000" stroke-width="2.2"/>
<line x1="104.90" y1="492.00" x2="104.90" y2="499.60" stroke="#000" stroke-width="2.2"/>
<line x1="142.40" y1="492.00" x2="142.40" y2="499.60" stroke="#000" stroke-width="2.2"/>
<text font-size="8.38" stroke="#000" stroke-width="0.25" textLength="38.4" lengthAdjust="spacingAndGlyphs" transform="translate(62.6 490.9)"><tspan font-style="italic">P</tspan> = 0.0006</text>
<text font-size="8.38" stroke="#000" stroke-width="0.25" textLength="38.4" lengthAdjust="spacingAndGlyphs" transform="translate(62.6 499.2)"><tspan font-style="italic">P</tspan> = 0.0006</text>
<rect x="207.40" y="487.60" width="14.10" height="9.50" fill="#000"/>
<text font-size="9.41" stroke="#000" stroke-width="0.25" transform="translate(225.2 495.7) scale(0.93 1)">ISO</text>
<rect x="207.40" y="499.47" width="14.10" height="9.50" fill="#8a8a8a"/>
<text font-size="9.41" stroke="#000" stroke-width="0.25" transform="translate(225.2 507.0) scale(0.93 1)">CAR 0 h</text>
<rect x="207.40" y="511.34" width="14.10" height="9.50" fill="#696969"/>
<text font-size="9.41" stroke="#000" stroke-width="0.25" transform="translate(225.2 518.7) scale(0.93 1)">CAR 20 h</text>
<rect x="207.40" y="523.21" width="14.10" height="9.50" fill="#c4c4c4"/>
<text font-size="9.41" stroke="#000" stroke-width="0.25" transform="translate(225.2 530.1) scale(0.93 1)">CAR 50 h</text>
<text font-size="16.9" font-weight="bold" transform="translate(285.3 467.8)">F</text>
<text font-size="10.64" stroke="#000" stroke-width="0.25" textLength="130.2" lengthAdjust="spacingAndGlyphs" transform="translate(320.6 471.9)">CAR.OT-I TCR MC57OVA<tspan font-size="7.9" dy="1.9" dx="0">257</tspan></text>
<line x1="317.50" y1="484.20" x2="317.50" y2="590.35" stroke="#000" stroke-width="2.5"/>
<line x1="316.25" y1="589.10" x2="473.60" y2="589.10" stroke="#000" stroke-width="2.5"/>
<line x1="313.30" y1="589.10" x2="317.50" y2="589.10" stroke="#000" stroke-width="1.8"/>
<text font-size="10.48" text-anchor="end" stroke="#000" stroke-width="0.25" transform="translate(312.2 592.7) scale(0.93 1)">0</text>
<line x1="313.30" y1="568.30" x2="317.50" y2="568.30" stroke="#000" stroke-width="1.8"/>
<text font-size="10.48" text-anchor="end" stroke="#000" stroke-width="0.25" transform="translate(312.2 571.9) scale(0.93 1)">1,000</text>
<line x1="313.30" y1="547.50" x2="317.50" y2="547.50" stroke="#000" stroke-width="1.8"/>
<text font-size="10.48" text-anchor="end" stroke="#000" stroke-width="0.25" transform="translate(312.2 551.1) scale(0.93 1)">2,000</text>
<line x1="313.30" y1="526.70" x2="317.50" y2="526.70" stroke="#000" stroke-width="1.8"/>
<text font-size="10.48" text-anchor="end" stroke="#000" stroke-width="0.25" transform="translate(312.2 530.3) scale(0.93 1)">3,000</text>
<line x1="313.30" y1="505.90" x2="317.50" y2="505.90" stroke="#000" stroke-width="1.8"/>
<text font-size="10.48" text-anchor="end" stroke="#000" stroke-width="0.25" transform="translate(312.2 509.5) scale(0.93 1)">4,000</text>
<line x1="313.30" y1="485.10" x2="317.50" y2="485.10" stroke="#000" stroke-width="1.8"/>
<text font-size="10.48" text-anchor="end" stroke="#000" stroke-width="0.25" transform="translate(312.2 488.7) scale(0.93 1)">5,000</text>
<text font-size="10.75" text-anchor="middle" stroke="#000" stroke-width="0.25" transform="translate(284.5 537.5) rotate(-90) scale(0.93 1)">MFI</text>
<line x1="336.00" y1="570.20" x2="336.00" y2="572.30" stroke="#000" stroke-width="1.8"/>
<line x1="329.40" y1="570.20" x2="342.60" y2="570.20" stroke="#000" stroke-width="1.8"/>
<rect x="322.10" y="571.30" width="27.80" height="16.93" fill="#000"/>
<line x1="336.70" y1="589.10" x2="336.70" y2="593.90" stroke="#000" stroke-width="1.8"/>
<text font-size="10.21" text-anchor="end" stroke="#000" stroke-width="0.25" transform="translate(341.3 601.5) rotate(-45) scale(0.93 1)">ISO</text>
<line x1="374.75" y1="509.90" x2="374.75" y2="512.70" stroke="#000" stroke-width="1.8"/>
<line x1="368.15" y1="509.90" x2="381.35" y2="509.90" stroke="#000" stroke-width="1.8"/>
<rect x="360.70" y="511.70" width="28.10" height="76.53" fill="#8a8a8a"/>
<line x1="375.45" y1="589.10" x2="375.45" y2="593.90" stroke="#000" stroke-width="1.8"/>
<text font-size="10.21" text-anchor="end" stroke="#000" stroke-width="0.25" transform="translate(380.05 601.5) rotate(-45) scale(0.93 1)">TCR 0 h</text>
<line x1="413.80" y1="505.80" x2="413.80" y2="512.20" stroke="#000" stroke-width="1.8"/>
<line x1="407.20" y1="505.80" x2="420.40" y2="505.80" stroke="#000" stroke-width="1.8"/>
<rect x="399.90" y="511.20" width="27.80" height="77.03" fill="#696969"/>
<line x1="414.50" y1="589.10" x2="414.50" y2="593.90" stroke="#000" stroke-width="1.8"/>
<text font-size="10.21" text-anchor="end" stroke="#000" stroke-width="0.25" transform="translate(419.09999999999997 601.5) rotate(-45) scale(0.93 1)">TCR 20 h</text>
<line x1="452.60" y1="548.70" x2="452.60" y2="551.00" stroke="#000" stroke-width="1.8"/>
<line x1="446.00" y1="548.70" x2="459.20" y2="548.70" stroke="#000" stroke-width="1.8"/>
<rect x="438.50" y="550.00" width="28.20" height="38.23" fill="#c4c4c4"/>
<line x1="453.30" y1="589.10" x2="453.30" y2="593.90" stroke="#000" stroke-width="1.8"/>
<text font-size="10.21" text-anchor="end" stroke="#000" stroke-width="0.25" transform="translate(457.90000000000003 601.5) rotate(-45) scale(0.93 1)">TCR 50 h</text>
<line x1="377.30" y1="491.80" x2="455.00" y2="491.80" stroke="#000" stroke-width="2.2"/>
<line x1="377.30" y1="488.10" x2="377.30" y2="495.50" stroke="#000" stroke-width="2.2"/>
<line x1="455.00" y1="488.10" x2="455.00" y2="495.50" stroke="#000" stroke-width="2.2"/>
<line x1="377.30" y1="501.20" x2="416.90" y2="501.20" stroke="#000" stroke-width="2.2"/>
<line x1="377.30" y1="497.60" x2="377.30" y2="504.80" stroke="#000" stroke-width="2.2"/>
<line x1="416.90" y1="497.60" x2="416.90" y2="504.80" stroke="#000" stroke-width="2.2"/>
<text font-size="8.38" text-anchor="end" stroke="#000" stroke-width="0.25" textLength="43.5" lengthAdjust="spacingAndGlyphs" transform="translate(373.8 494.2)"><tspan font-style="italic">P</tspan> = &lt;0.0001</text>
<text font-size="8.38" text-anchor="end" stroke="#000" stroke-width="0.25" transform="translate(373.2 503.5) scale(0.93 1)">N.S</text>
</svg>
</body></html>
